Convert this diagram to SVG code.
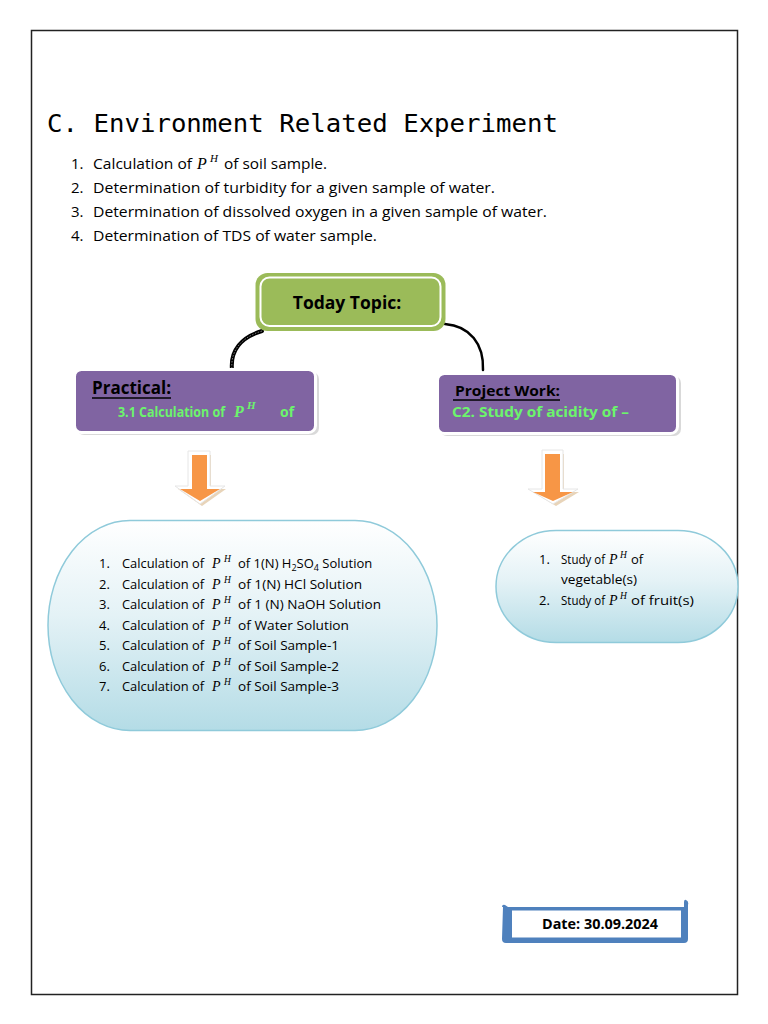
<svg xmlns="http://www.w3.org/2000/svg" width="768" height="1024" viewBox="0 0 768 1024">
<defs>
<style>
.body{font-family:"Open Sans","Liberation Sans",sans-serif;fill:#000}
.math{font-family:"Liberation Serif","DejaVu Serif",serif;font-style:italic;fill:#000}
.b{font-weight:bold}
.green{fill:#6CF46C}
.lst{font-size:15px}
.sm{font-size:13px}
.conn{fill:none;stroke:#000;stroke-linecap:round}
</style>
<linearGradient id="blueg" x1="0" y1="0" x2="0" y2="1">
<stop offset="0" stop-color="#FFFFFF"/>
<stop offset="0.45" stop-color="#E4F2F6"/>
<stop offset="1" stop-color="#B4DCE6"/>
</linearGradient>
</defs>
<rect width="768" height="1024" fill="#fff"/>
<rect x="31.5" y="30.5" width="706" height="964" fill="none" stroke="#222" stroke-width="1.5"/>

<g id="title">
<text x="47" y="132" font-family="DejaVu Sans Mono,Liberation Mono,monospace" font-size="25" textLength="511" lengthAdjust="spacingAndGlyphs">C. Environment Related Experiment</text>
</g>

<g id="intro-list" class="body lst">
<text x="71" y="169">1.</text>
<text x="93" y="169" textLength="99" lengthAdjust="spacingAndGlyphs">Calculation of</text>
<text x="197" y="169" class="math" font-size="16">P</text><text x="210" y="162" class="math" font-size="11">H</text>
<text x="224" y="169" textLength="103" lengthAdjust="spacingAndGlyphs">of soil sample.</text>
<text x="71" y="193">2.</text>
<text x="93" y="193" textLength="402" lengthAdjust="spacingAndGlyphs">Determination of turbidity for a given sample of water.</text>
<text x="71" y="217">3.</text>
<text x="93" y="217" textLength="454" lengthAdjust="spacingAndGlyphs">Determination of dissolved oxygen in a given sample of water.</text>
<text x="71" y="241">4.</text>
<text x="93" y="241" textLength="284" lengthAdjust="spacingAndGlyphs">Determination of TDS of water sample.</text>
</g>

<g id="connectors">
<path class="conn" d="M262,331 C242,337 230,350 232,370" stroke-width="4"/>
<path d="M262,331 C242,337 230,350 232,370" fill="none" stroke="#9a9a9a" stroke-width="0.8" stroke-dasharray="1.5 1.5"/>
<path class="conn" d="M445,324 C470,326 484,344 483,370" stroke-width="2.5"/>
</g>

<g id="today-topic">
<rect x="255.5" y="273" width="190" height="58" rx="12" fill="#9BBB59"/>
<rect x="260.5" y="277.5" width="180" height="48.5" rx="9" fill="none" stroke="#fff" stroke-width="2"/>
<text x="347" y="309" class="body b" font-size="17.5" text-anchor="middle">Today Topic:</text>
</g>

<g id="practical">
<rect x="77" y="372" width="242" height="63" rx="7" fill="#BFBFBF" opacity="0.6"/>
<rect x="74.5" y="369.5" width="241" height="63" rx="7" fill="#8064A2" stroke="#fff" stroke-width="3"/>
<text x="92" y="394" class="body b" font-size="17" textLength="79" lengthAdjust="spacingAndGlyphs">Practical:</text>
<line x1="92" y1="398" x2="171" y2="398" stroke="#000" stroke-width="1.5"/>
<text x="118" y="417" class="body b green" font-size="14" textLength="107" lengthAdjust="spacingAndGlyphs">3.1 Calculation of</text>
<text x="234" y="417" class="math green b" font-size="16">P</text><text x="247" y="409" class="math green b" font-size="11">H</text>
<text x="280" y="417" class="body b green" font-size="14">of</text>
</g>

<g id="project-work">
<rect x="440" y="376" width="241" height="60" rx="7" fill="#BFBFBF" opacity="0.6"/>
<rect x="437.5" y="373.5" width="240" height="60" rx="7" fill="#8064A2" stroke="#fff" stroke-width="3"/>
<text x="455" y="396" class="body b" font-size="15" textLength="105" lengthAdjust="spacingAndGlyphs">Project Work:</text>
<line x1="453" y1="400" x2="560" y2="400" stroke="#000" stroke-width="1.5"/>
<text x="452" y="417" class="body b green" font-size="15" textLength="177" lengthAdjust="spacingAndGlyphs">C2. Study of acidity of –</text>
</g>

<g id="arrow-left">
<polygon points="191,455 211,455 211,489 226,489 202,506 178,489 191,489" fill="#E2C9A8" opacity="0.8"/>
<polygon points="188,451 210,451 210,486 225,486 200,504 175,486 188,486" fill="#fff" stroke="#E6E6E6" stroke-width="1"/>
<polygon points="192,455 207,455 207,489 220,489 200,501 180,489 192,489" fill="#F79646"/>
</g>

<g id="arrow-right">
<polygon points="545,454 564,454 564,492 579,492 556,506 533,492 545,492" fill="#E2C9A8" opacity="0.8"/>
<polygon points="542,450 563,450 563,489 578,489 553,504 528,489 542,489" fill="#fff" stroke="#E6E6E6" stroke-width="1"/>
<polygon points="545,454 560,454 560,492 573,492 553,501 533,492 545,492" fill="#F79646"/>
</g>

<g id="practical-list">
<rect x="48" y="520.5" width="389" height="210" rx="82" ry="105" fill="url(#blueg)" stroke="#8FCADA" stroke-width="1.5"/>
<g class="body sm">
<text x="99" y="568">1.</text>
<text x="122" y="568" textLength="82" lengthAdjust="spacingAndGlyphs">Calculation of</text>
<text x="212" y="568" class="math" font-size="14">P</text><text x="224" y="562" class="math" font-size="9.5">H</text>
<text x="238" y="568">of 1(N) H<tspan font-size="9" dy="3">2</tspan><tspan dy="-3">SO</tspan><tspan font-size="9" dy="3">4</tspan><tspan dy="-3"> Solution</tspan></text>
<text x="99" y="588.5">2.</text>
<text x="122" y="588.5" textLength="82" lengthAdjust="spacingAndGlyphs">Calculation of</text>
<text x="212" y="588.5" class="math" font-size="14">P</text><text x="224" y="582.5" class="math" font-size="9.5">H</text>
<text x="238" y="588.5" textLength="124" lengthAdjust="spacingAndGlyphs">of 1(N) HCl Solution</text>
<text x="99" y="609">3.</text>
<text x="122" y="609" textLength="82" lengthAdjust="spacingAndGlyphs">Calculation of</text>
<text x="212" y="609" class="math" font-size="14">P</text><text x="224" y="603" class="math" font-size="9.5">H</text>
<text x="238" y="609" textLength="143" lengthAdjust="spacingAndGlyphs">of 1 (N) NaOH Solution</text>
<text x="99" y="629.5">4.</text>
<text x="122" y="629.5" textLength="82" lengthAdjust="spacingAndGlyphs">Calculation of</text>
<text x="212" y="629.5" class="math" font-size="14">P</text><text x="224" y="623.5" class="math" font-size="9.5">H</text>
<text x="238" y="629.5" textLength="111" lengthAdjust="spacingAndGlyphs">of Water Solution</text>
<text x="99" y="650">5.</text>
<text x="122" y="650" textLength="82" lengthAdjust="spacingAndGlyphs">Calculation of</text>
<text x="212" y="650" class="math" font-size="14">P</text><text x="224" y="644" class="math" font-size="9.5">H</text>
<text x="238" y="650" textLength="101" lengthAdjust="spacingAndGlyphs">of Soil Sample-1</text>
<text x="99" y="670.5">6.</text>
<text x="122" y="670.5" textLength="82" lengthAdjust="spacingAndGlyphs">Calculation of</text>
<text x="212" y="670.5" class="math" font-size="14">P</text><text x="224" y="664.5" class="math" font-size="9.5">H</text>
<text x="238" y="670.5" textLength="101" lengthAdjust="spacingAndGlyphs">of Soil Sample-2</text>
<text x="99" y="691">7.</text>
<text x="122" y="691" textLength="82" lengthAdjust="spacingAndGlyphs">Calculation of</text>
<text x="212" y="691" class="math" font-size="14">P</text><text x="224" y="685" class="math" font-size="9.5">H</text>
<text x="238" y="691" textLength="101" lengthAdjust="spacingAndGlyphs">of Soil Sample-3</text>
</g>
</g>

<g id="project-list">
<rect x="496" y="530.5" width="242" height="112" rx="60" ry="56" fill="url(#blueg)" stroke="#8FCADA" stroke-width="1.5"/>
<g class="body sm">
<text x="539" y="564">1.</text>
<text x="561" y="564" textLength="44" lengthAdjust="spacingAndGlyphs">Study of</text>
<text x="609" y="564" class="math" font-size="14">P</text><text x="620" y="558" class="math" font-size="9.5">H</text>
<text x="631" y="564">of</text>
<text x="561" y="584" textLength="76" lengthAdjust="spacingAndGlyphs">vegetable(s)</text>
<text x="539" y="605">2.</text>
<text x="561" y="605" textLength="44" lengthAdjust="spacingAndGlyphs">Study of</text>
<text x="609" y="605" class="math" font-size="14">P</text><text x="620" y="599" class="math" font-size="9.5">H</text>
<text x="631" y="605" textLength="63" lengthAdjust="spacingAndGlyphs">of fruit(s)</text>
</g>
</g>

<g id="date">
<path d="M503,907 L684,907 L684,903 Q684,899 686,900 Q689,901 688,905 L688,939 Q688,943 684,943 L506,943 Q502,943 502,939 Z" fill="#4F81BD"/>
<path d="M502,907 Q502,904 505,905 L508,907 Z" fill="#4F81BD"/>
<rect x="512" y="910.5" width="169" height="27" fill="#fff"/>
<text x="600" y="929" class="body b" font-size="15" text-anchor="middle" textLength="116" lengthAdjust="spacingAndGlyphs">Date: 30.09.2024</text>
</g>
</svg>
